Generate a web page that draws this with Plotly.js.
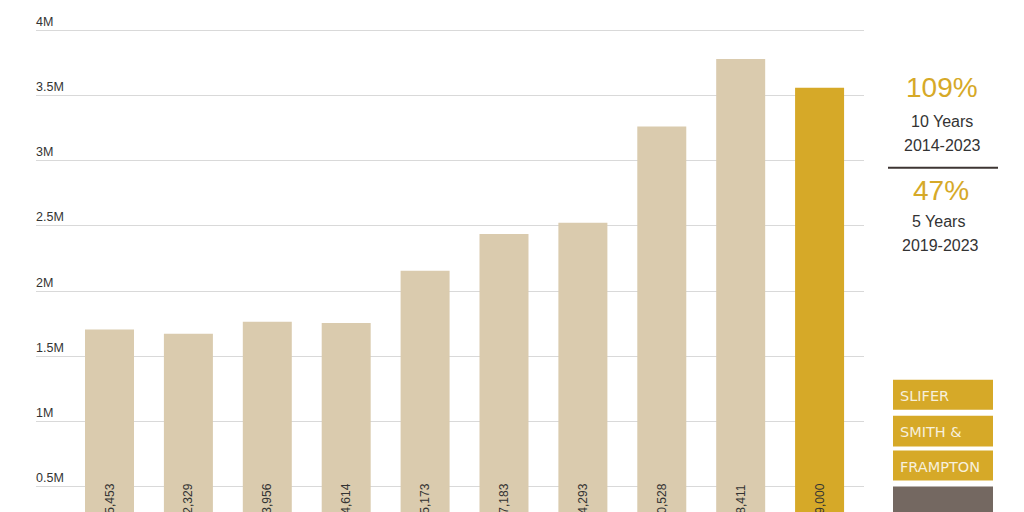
<!DOCTYPE html>
<html>
<head>
<meta charset="utf-8">
<script src="https://cdn.plot.ly/plotly-3.0.1.min.js"></script>
<style>
  html, body { margin: 0; padding: 0; overflow: hidden; background: #fff; }
  #chart { width: 1024px; height: 600px; }
</style>
</head>
<body>
<div id="chart"></div>
<script>
// ---- data ----
const years = ['2014','2015','2016','2017','2018','2019','2020','2021','2022','2023'];
const prices = [1705453, 1672329, 1763956, 1754614, 2155173, 2437183, 2524293, 3260528, 3778411, 3559000];
const barColors = ['#dacbae','#dacbae','#dacbae','#dacbae','#dacbae','#dacbae','#dacbae','#dacbae','#dacbae','#d6a928'];
const tickValues = [500000, 1000000, 1500000, 2000000, 2500000, 3000000, 3500000, 4000000];
const tickLabels = ['0.5M','1M','1.5M','2M','2.5M','3M','3.5M','4M'];
const tenYearPct = '109%';
const tenYearLabel = '10 Years';
const tenYearRange = '2014-2023';
const fiveYearPct = '47%';
const fiveYearLabel = '5 Years';
const fiveYearRange = '2019-2023';
const logoWords = ['SLIFER', 'SMITH &', 'FRAMPTON'];

// ---- layout helpers (pixel -> paper) ----
const PX_PER_M = 130.6;
const W = 1024, H = 600, ML = 36, MR = 160, MB = 47.5;
const YMAX = 4200000;
const PH = PX_PER_M * YMAX / 1e6;
const MT = H - MB - PH;
const PW = W - ML - MR;
const px = p => (p - ML) / PW;
const py = p => (H - MB - p) / PH;
const LABEL_BASE = 92000; // where the in-bar labels start (label offset from the axis)

const font = 'Liberation Sans, Arial, sans-serif';
const gold = '#d6a928';
const dark = '#333333';

const barTrace = {
  type: 'bar',
  x: years,
  y: prices,
  marker: { color: barColors, line: { width: 0 } },
  hoverinfo: 'x+y'
};

// transparent overlay carrying the value labels, starting a little above the axis
const labelTrace = {
  type: 'bar',
  x: years,
  y: prices.map(v => v - LABEL_BASE),
  base: LABEL_BASE,
  marker: { color: 'rgba(0,0,0,0)', line: { width: 0 } },
  text: prices.map(v => v.toLocaleString('en-US')),
  textposition: 'inside',
  insidetextanchor: 'start',
  textangle: -90,
  constraintext: 'none',
  textfont: { family: font, size: 12, color: dark },
  hoverinfo: 'skip'
};

const annotations = [
  { text: tenYearPct, x: px(942), y: py(88), font: { family: font, size: 28, color: gold } },
  { text: tenYearLabel, x: px(942), y: py(122), font: { family: font, size: 16, color: dark } },
  { text: tenYearRange, x: px(942), y: py(146), font: { family: font, size: 16, color: dark } },
  { text: fiveYearPct, x: px(941), y: py(191), font: { family: font, size: 28, color: gold } },
  { text: fiveYearLabel, x: px(938), y: py(222), font: { family: font, size: 16, color: dark } },
  { text: fiveYearRange, x: px(940), y: py(246), font: { family: font, size: 16, color: dark } }
].map(a => Object.assign({ xref: 'paper', yref: 'paper', showarrow: false, xanchor: 'center', yanchor: 'middle' }, a));

const boxTops = [380, 416, 451];
const boxBottoms = [410, 447, 481];
logoWords.forEach((w, i) => {
  annotations.push({
    text: w, xref: 'paper', yref: 'paper', showarrow: false,
    x: px(898), y: py((boxTops[i] + boxBottoms[i]) / 2 + 1),
    xanchor: 'left', yanchor: 'middle',
    font: { family: 'DejaVu Sans, Open Sans, sans-serif', size: 14.5, color: '#f7f0dc' }
  });
});

const shapes = [
  { type: 'line', xref: 'paper', yref: 'paper', x0: px(888), x1: px(998), y0: py(168), y1: py(168),
    line: { color: '#3d3533', width: 2 } }
];
boxTops.forEach((t, i) => {
  shapes.push({ type: 'rect', xref: 'paper', yref: 'paper', x0: px(893), x1: px(993), y0: py(boxBottoms[i]), y1: py(t),
    fillcolor: gold, line: { width: 0 }, layer: 'above' });
});
shapes.push({ type: 'rect', xref: 'paper', yref: 'paper', x0: px(893), x1: px(993), y0: py(600), y1: py(487),
  fillcolor: '#746861', line: { width: 0 }, layer: 'above' });

const layout = {
  width: W, height: H,
  margin: { l: ML, r: MR, t: MT, b: MB, pad: 0 },
  paper_bgcolor: '#ffffff', plot_bgcolor: '#ffffff',
  showlegend: false,
  barmode: 'overlay',
  bargap: 0.379,
  font: { family: font, color: dark },
  xaxis: {
    type: 'category',
    range: [-0.9316, 9.563],
    showgrid: false, zeroline: false, showline: false,
    ticks: '', tickfont: { family: font, size: 12, color: dark }
  },
  yaxis: {
    range: [0, YMAX],
    tickvals: tickValues, ticktext: tickLabels,
    ticklabelposition: 'inside top',
    ticklabelstandoff: -3,
    tickfont: { family: font, size: 12.5, color: dark },
    showgrid: true, gridcolor: '#d9d9d9', gridwidth: 1,
    zeroline: false, showline: false, ticks: ''
  },
  annotations: annotations,
  shapes: shapes
};

Plotly.newPlot('chart', [barTrace, labelTrace], layout, { displayModeBar: false, staticPlot: true });
</script>
</body>
</html>
